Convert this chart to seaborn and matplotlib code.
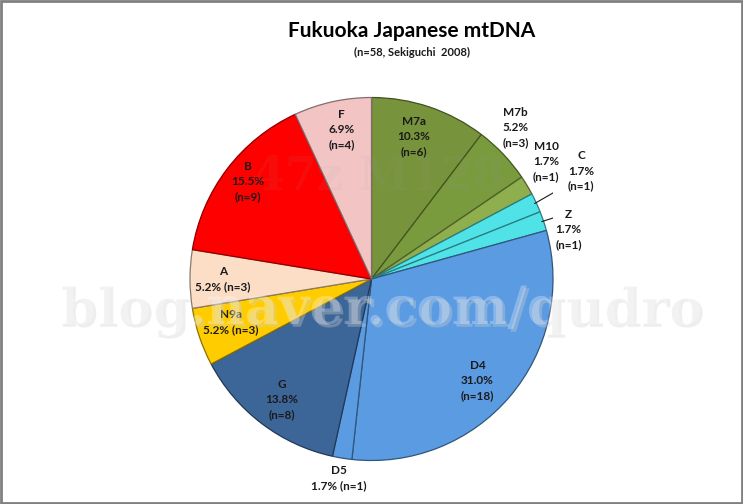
import numpy as np
import matplotlib
matplotlib.use("Agg")
import matplotlib.pyplot as plt
import matplotlib.colors as mcolors
import matplotlib.patheffects as pe
import seaborn as sns

# ---- data ----
haplogroups = ["M7a", "M7b", "M10", "C", "Z", "D4", "D5", "G", "N9a", "A", "B", "F"]
counts = [6, 3, 1, 1, 1, 18, 1, 8, 3, 3, 9, 4]
percent_labels = ["10.3%", "5.2%", "1.7%", "1.7%", "1.7%", "31.0%", "1.7%", "13.8%", "5.2%", "5.2%", "15.5%", "6.9%"]
colors = ["#77933C", "#7A9A3E", "#8FAF4E", "#4FE3E8", "#4FE3E8", "#5B9BE2",
          "#5B9BE2", "#3D6698", "#FFCC00", "#FCDEC6", "#FF0000", "#F2C4C4"]
title = "Fukuoka Japanese mtDNA"
subtitle = "(n=58, Sekiguchi  2008)"

# label layout (style): radial distance, angle offset, one-line flag, leader line
label_r = [0.82, 1.15, 1.16, 1.30, 1.12, 0.81, 1.11, 0.83, 0.81, 0.82, 0.87, 0.84]
label_dang = [2, 3, 3, 2.4, -4.6, -3.5, 0, 0.5, -1.6, 0, -1, -1]
one_line = {"D5", "N9a", "A"}
leader = {"C", "Z"}

sns.set_theme(style="white")
plt.rcParams["font.family"] = ["Lato", "DejaVu Sans"]

W, H = 743, 504
fig = plt.figure(figsize=(W / 100, H / 100), dpi=100)
fig.patch.set_facecolor("white")

cx, cy, R = 371.5, 279, 181.5
ax = fig.add_axes([(cx - R) / W, (H - cy - R) / H, 2 * R / W, 2 * R / H])

edge_cols = []
for c in colors:
    r, g, b = mcolors.to_rgb(c)
    edge_cols.append((r * 0.55, g * 0.55, b * 0.55))

wedges, _ = ax.pie(counts, colors=colors, startangle=90, counterclock=False,
                   radius=1.0, wedgeprops=dict(linewidth=0.9))
for w, ec in zip(wedges, edge_cols):
    w.set_edgecolor(ec)
ax.set_xlim(-1, 1)
ax.set_ylim(-1, 1)
ax.axis("off")

# watermark (faint)
fig.text(380 / W, 1 - 310 / H, "blog.naver.com/qudro", ha="center", va="center",
         fontsize=38, fontweight="bold", family="DejaVu Serif", color="white",
         alpha=0.28, zorder=5,
         path_effects=[pe.withSimplePatchShadow(offset=(2, -2), shadow_rgbFace="#d0d0d0", alpha=0.35)])
fig.text(379 / W, 1 - 177 / H, "47z M128", ha="center", va="center",
         fontsize=33, fontweight="bold", family="DejaVu Serif", color="#a0a0a0",
         alpha=0.08, zorder=5)

for w, name, n, pct, r, da in zip(wedges, haplogroups, counts, percent_labels, label_r, label_dang):
    mid = np.deg2rad((w.theta1 + w.theta2) / 2 + da)
    x, y = r * np.cos(mid), r * np.sin(mid)
    if name in one_line:
        txt = f"{name}\n{pct} (n={n})"
    else:
        txt = f"{name}\n{pct}\n(n={n})"
    ax.text(x, y, txt, ha="center", va="center", fontsize=8.5, fontweight="bold",
            color="#1a1a1a", linespacing=1.45, zorder=10)
    if name in leader:
        m0 = np.deg2rad((w.theta1 + w.theta2) / 2)
        x0, y0 = 0.99 * np.cos(m0), 0.99 * np.sin(m0)
        if name == "C":
            x1, y1 = x - 0.12, y - 0.10
        else:
            x1, y1 = x - 0.04, y + 0.08
        ax.plot([x0, x1, x1 + 0.03], [y0, y1, y1], color="#1a1a1a", lw=0.8, zorder=10)

fig.text(412 / W, 1 - 31 / H, title, ha="center", va="center", fontsize=15,
         fontweight="bold", color="black")
fig.text(412 / W, 1 - 52 / H, subtitle, ha="center", va="center", fontsize=8,
         fontweight="bold", color="#1a1a1a")

# figure border
fig.add_artist(plt.Rectangle((0.001, 0.002), 0.997, 0.996, transform=fig.transFigure,
                             fill=False, edgecolor="#808080", linewidth=2))

fig.savefig("out.png", dpi=100, facecolor="white")
